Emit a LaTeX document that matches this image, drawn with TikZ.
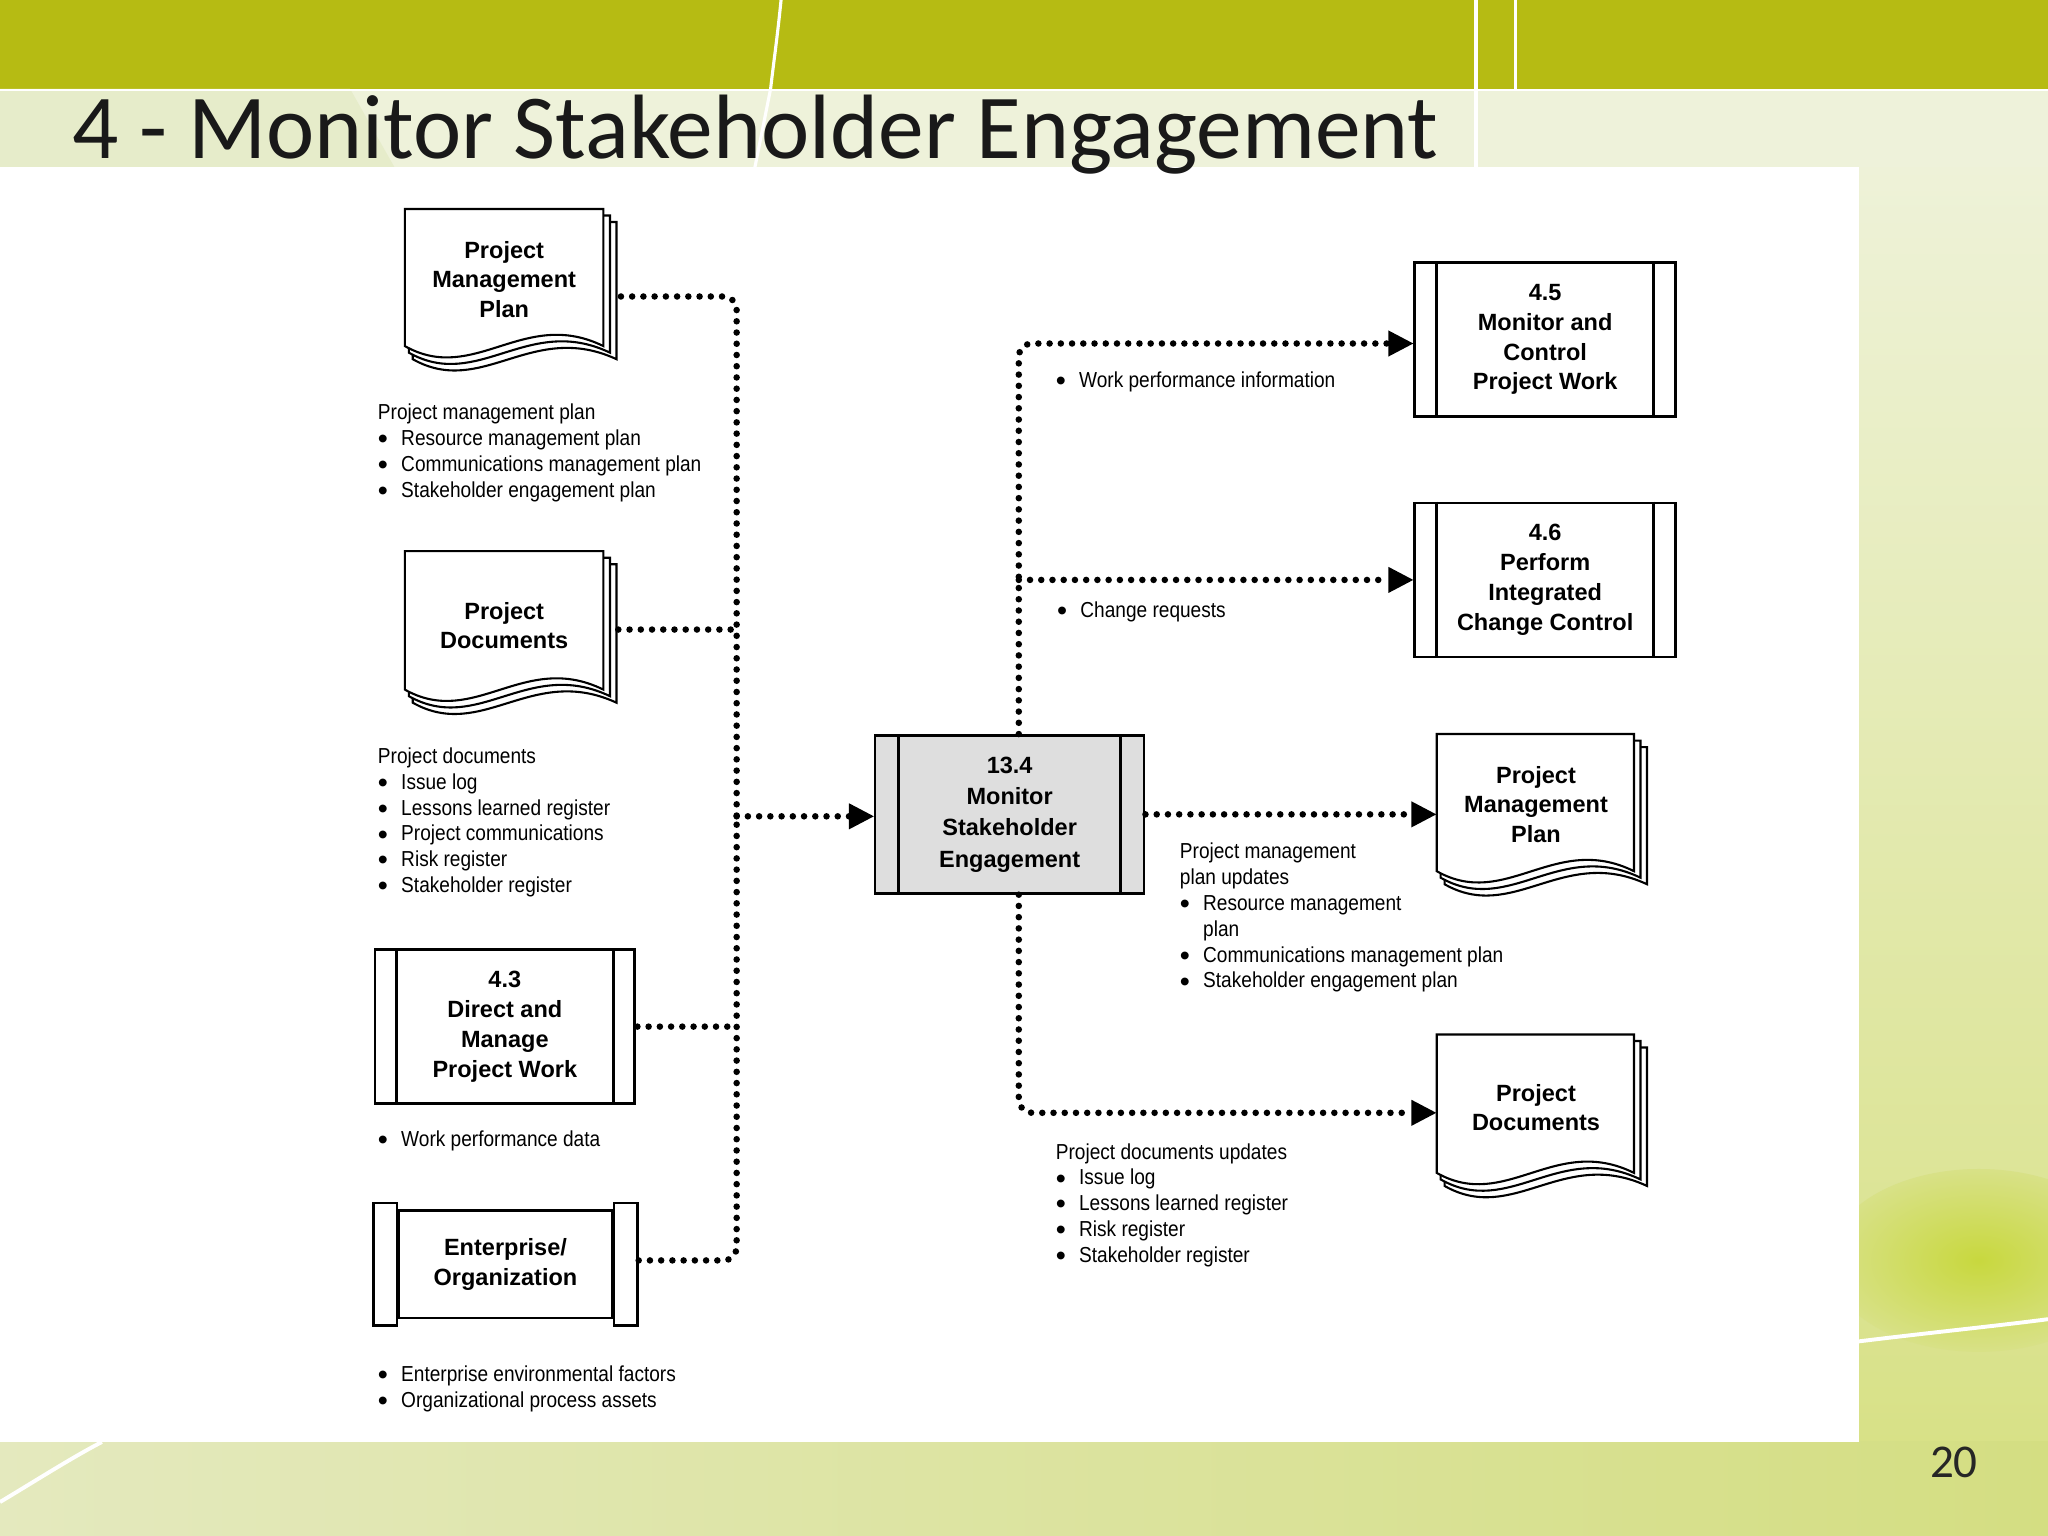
\documentclass[tikz,border=0pt]{standalone}
\usepackage{fontspec}
\setmainfont{Liberation Sans}
\newfontfamily\titlefont{Carlito}
\newfontfamily\narrowfont[FakeStretch=0.88]{Liberation Sans}
\usetikzlibrary{arrows.meta,calc}

\definecolor{topband}{RGB}{182,187,19}
\definecolor{titleband}{RGB}{238,242,218}
\definecolor{titleleft}{RGB}{230,236,202}
\definecolor{slidebg}{RGB}{238,242,216}
\definecolor{rightlow}{RGB}{216,225,135}
\definecolor{blobgreen}{RGB}{200,216,62}
\definecolor{bandlight}{RGB}{228,233,190}
\definecolor{banddark}{RGB}{212,222,130}
\definecolor{boxgray}{RGB}{222,222,222}

\newcommand\bl{\makebox[8.9pt][l]{\raisebox{-1.2pt}{\rmfamily\fontsize{11}{11}\selectfont\textbullet}}}
\newcommand\blank{\makebox[8.9pt][l]{}}

\newcommand\docpages[4]{%
  \foreach \k in {2,1,0}{
    \filldraw[fill=white, draw=black, line width=0.8pt]
      ({#1+3*\k},{#2+5*\k}) -- ({#1+#3+5*\k},{#2+5*\k}) -- ({#1+#3+5*\k},{#2+#4+5*\k})
      .. controls ({#1+3*\k+0.6*#3},{#2+#4+5*\k-30}) and ({#1+3*\k+0.35*#3},{#2+#4+5*\k+30}) ..
      ({#1+3*\k},{#2+#4+5*\k}) -- cycle;
  }}

\newcommand\procsides[2]{%
  \draw[line width=1pt] ($(#1.north west)+(#2,0)$) -- ($(#1.south west)+(#2,0)$);
  \draw[line width=1pt] ($(#1.north east)+(-#2,0)$) -- ($(#1.south east)+(-#2,0)$);}

\tikzset{
  dotline/.style={line width=2.5pt, dash pattern=on 0pt off 4.3pt, line cap=round},
  arr/.style={-{Triangle[length=9.5pt,width=10pt,line width=0pt]}},
  proc/.style={draw, line width=1pt, fill=white, align=center, inner sep=0pt,
    font=\bfseries\fontsize{9}{11.4}\selectfont},
  doctext/.style={align=center, inner sep=0pt, minimum width=76pt, minimum height=52.5pt,
    font=\bfseries\fontsize{9}{11.4}\selectfont},
  listtext/.style={anchor=north west, inner sep=0pt, align=left,
    font=\narrowfont\fontsize{8.3}{9.9}\selectfont}
}

\begin{document}
\begin{tikzpicture}[x=0.5pt,y=-0.5pt]
\useasboundingbox (0,0) rectangle (1568,1176);

% ---------- slide background ----------
\fill[slidebg] (0,0) rectangle (1568,1176);
\shade[top color=slidebg, bottom color=rightlow] (1423,128) rectangle (1568,1104);
\shade[inner color=blobgreen, outer color=rightlow] (1515,965) ellipse (115 and 70);
\draw[white, line width=1.5pt] (1423,1027) .. controls (1480,1020) and (1530,1015) .. (1568,1010);
\shade[left color=bandlight, right color=banddark] (0,1104) rectangle (1568,1176);
\draw[white, line width=1.5pt] (0,1150) .. controls (30,1132) and (55,1116) .. (78,1104);
\fill[topband] (0,0) rectangle (1568,68);
\fill[titleband] (0,68) rectangle (1568,128);
\fill[titleleft] (0,68) -- (268,68) -- (302,128) -- (0,128) -- cycle;
\draw[white, line width=1pt] (0,69) -- (1568,69);
\draw[white, line width=1.2pt] (598,0) .. controls (595,30) and (592,50) .. (590,68) -- (578,128);
\draw[white, line width=1.2pt] (1130,0) -- (1130,128);
\draw[white, line width=1.2pt] (1160,0) -- (1160,68);
\fill[white] (0,128) rectangle (1423,1104);

\node[anchor=base west, inner sep=0pt, font=\titlefont\fontsize{35}{35}\selectfont, text=black!90] (title) at (55,121) {4 - Monitor Stakeholder Engagement};
\node[font=\titlefont\fontsize{18}{18}\selectfont, text=black!85] (pagenum) at (1496,1120) {20};

% ---------- documents ----------
\docpages{310}{160}{152}{105}
\node[doctext] (lpmp) at (386,214) {Project\\Management\\Plan};
\docpages{310}{422}{152}{106}
\node[doctext] (lpd) at (386,479) {Project\\Documents};
\docpages{1100}{562}{151}{105}
\node[doctext] (rpmp) at (1176,616) {Project\\Management\\Plan};
\docpages{1100}{792}{151}{106}
\node[doctext] (rpd) at (1176,848) {Project\\Documents};

% ---------- process boxes ----------
\node[proc, minimum width=99.5pt, minimum height=59pt] (b43) at (386.5,786) {4.3\\Direct and\\Manage\\Project Work};
\procsides{b43}{17.5}
\node[proc, minimum width=82pt, minimum height=41pt] (ent) at (387,968) {Enterprise/\\Organization};
\draw[line width=1pt, fill=white] ($(ent.north west)+(-18,-5)$) rectangle ($(ent.south west)+(0,5)$);
\draw[line width=1pt, fill=white] ($(ent.north east)+(0,-5)$) rectangle ($(ent.south east)+(18,5)$);
\node[proc, fill=boxgray, minimum width=103pt, minimum height=60.5pt, font=\bfseries\fontsize{9}{12}\selectfont] (c) at (773,623.5) {13.4\\Monitor\\Stakeholder\\Engagement};
\procsides{c}{19}
\node[proc, minimum width=100pt, minimum height=59pt] (b45) at (1183,260) {4.5\\Monitor and\\Control\\Project Work};
\procsides{b45}{18}
\node[proc, minimum width=100pt, minimum height=59pt] (b46) at (1183,444) {4.6\\Perform\\Integrated\\Change Control};
\procsides{b46}{18}

% ---------- lists ----------
\node[listtext] (la) at (289,309) {Project management plan\\\bl Resource management plan\\\bl Communications management plan\\\bl Stakeholder engagement plan};
\node[listtext] (lb) at (289,572) {Project documents\\\bl Issue log\\\bl Lessons learned register\\\bl Project communications\\\bl Risk register\\\bl Stakeholder register};
\node[listtext] (lc) at (289,865) {\bl Work performance data};
\node[listtext] (ld) at (289,1045) {\bl Enterprise environmental factors\\\bl Organizational process assets};
\node[listtext] (le) at (808,284) {\bl Work performance information};
\node[listtext] (lf) at (809,460) {\bl Change requests};
\node[listtext] (lg) at (903,645) {Project management\\plan updates\\\bl Resource management\\\blank plan\\\bl Communications management plan\\\bl Stakeholder engagement plan};
\node[listtext] (lh) at (808,875) {Project documents updates\\\bl Issue log\\\bl Lessons learned register\\\bl Risk register\\\bl Stakeholder register};

% ---------- connectors ----------
\coordinate (bus) at (564,625);
\coordinate (lpmpout) at ([xshift=6.5pt,yshift=-6.5pt]lpmp.east);
\draw[dotline, rounded corners=5pt] (lpmpout) -| (bus);
\coordinate (lpdout) at ([xshift=5.5pt,yshift=-1.5pt]lpd.east);
\draw[dotline] (lpdout) -- (lpdout -| bus);
\draw[dotline] ([xshift=0.5pt]b43.east) -- (b43.east -| bus);
\coordinate (entout) at ([xshift=9.5pt,yshift=1.5pt]ent.east);
\draw[dotline, rounded corners=5pt] (entout) -| (bus);
\draw[dotline, arr] (bus) -- (bus -| c.west);

\coordinate (tktop) at ([xshift=3.5pt]c.north);
\coordinate (tkbot) at ([xshift=3.5pt]c.south);
\coordinate (b45in) at ([yshift=-1.5pt]b45.west);
\draw[dotline, arr, rounded corners=5pt] (tktop) |- (b45in);
\draw[dotline, arr] (tktop |- b46.west) -- (b46.west);
\draw[dotline, arr] (c.east) -- (c.east -| rpmp.west);
\coordinate (rpdin) at ([yshift=-2pt]rpd.west);
\draw[dotline, arr, rounded corners=5pt] (tkbot) |- (rpdin);
\end{tikzpicture}
\end{document}
